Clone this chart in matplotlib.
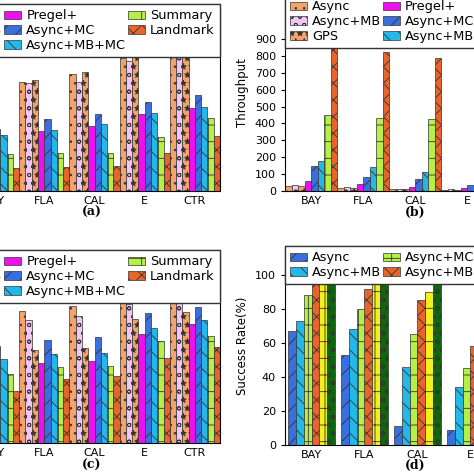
import matplotlib
matplotlib.use("Agg")
import matplotlib.pyplot as plt
import numpy as np

plt.rcParams['hatch.linewidth'] = 0.6
groups = ["BAY", "FLA", "CAL", "E", "CTR"]
series8 = ["Async", "Async+MB", "GPS", "Pregel+", "Async+MC", "Async+MB+MC", "Summary", "Landmark"]
colors8 = ["#f4a46a", "#f2c6f2", "#f4a46a", "#ee10ee", "#3a6fe0", "#22b8ea", "#b4f046", "#e8642a"]
hatch8 = ["..", "oo", "**", "", "//", "\\\\", "+", "xx"]

# panel (a) values (relative bar heights)
a_vals = [
    [300, 326, 351, 398, 404],
    [290, 323, 326, 389, 401],
    [305, 333, 355, 402, 408],
    [150, 181, 195, 231, 250],
    [185, 215, 230, 268, 286],
    [168, 183, 200, 233, 252],
    [110, 113, 114, 162, 218],
    [68, 71, 75, 114, 165],
]
# panel (b) throughput
b_vals = [
    [30, 15, 10, 8, 6],
    [35, 22, 12, 10, 8],
    [28, 15, 10, 8, 6],
    [60, 40, 25, 20, 15],
    [150, 85, 70, 38, 30],
    [180, 145, 110, 65, 50],
    [450, 435, 425, 400, 380],
    [900, 825, 785, 750, 700],
]
# panel (c) values
c_vals = [
    [370, 396, 411, 431, 450],
    [340, 368, 380, 416, 445],
    [260, 278, 285, 372, 393],
    [220, 240, 246, 325, 356],
    [290, 308, 316, 388, 406],
    [251, 266, 269, 345, 367],
    [207, 228, 230, 304, 319],
    [155, 193, 201, 255, 288],
]
# panel (d) success rate
d_groups = ["BAY", "FLA", "CAL", "E", "CTR"]
d_series = ["Async", "Async+MB", "Async+MC", "Async+MB+MC", "Summary", "Landmark"]
d_colors = ["#3a6fe0", "#22b8ea", "#b4f046", "#e8642a", "#f4f020", "#0a6a0a"]
d_hatch = ["//", "\\\\", "+", "xx", "+", "oo"]
d_vals = [
    [67, 53, 11, 9, 8],
    [73, 68, 46, 34, 30],
    [88, 80, 65, 45, 40],
    [96, 92, 85, 58, 55],
    [100, 95, 90, 81, 75],
    [100, 100, 100, 100, 100],
]

W = H = 474
fig = plt.figure(figsize=(4.74, 4.74), dpi=100)

def ax_px(l, t, r, b):
    return fig.add_axes([l / W, (H - b) / H, (r - l) / W, (b - t) / H])

def bars(ax, vals, names, cols, hatches, gw):
    n = len(vals)
    w = gw / n
    x = np.arange(len(vals[0]))
    for i in range(n):
        ax.bar(x - gw / 2 + w * (i + 0.5), vals[i], w, color=cols[i], hatch=hatches[i],
               edgecolor="#333333", linewidth=0.5, label=names[i])
    ax.set_xlim(-0.5, len(x) - 0.5)
    ax.set_xticks(x)
    ax.tick_params(labelsize=8, length=0)

LEG = dict(ncol=3, fontsize=9.3, borderaxespad=0, handlelength=1.3, handleheight=0.6,
           columnspacing=0.15, handletextpad=0.4, labelspacing=0.15,
           fancybox=False, edgecolor="#333333", framealpha=1)

# (a)
axa = ax_px(-31, 4, 220, 191)
bars(axa, a_vals, series8, colors8, hatch8, 1.0)
axa.set_xticklabels(groups)
axa.set_ylim(0, 560)
axa.set_yticks([])
axa.legend(loc="upper right", bbox_to_anchor=(1, 1), **LEG)

# (b)
axb = ax_px(285, -5, 545, 191)
bars(axb, b_vals, series8, colors8, hatch8, 1.0)
axb.set_xticklabels(groups)
axb.set_ylim(0, 1160)
axb.set_yticks(range(0, 1000, 100))
axb.tick_params(axis="y", length=3)
axb.set_ylabel("Throughput", fontsize=8.5)
axb.legend(loc="upper left", bbox_to_anchor=(0, 1), **LEG)

# (c)
axc = ax_px(-31, 250, 220, 443)
bars(axc, c_vals, series8, colors8, hatch8, 1.0)
axc.set_xticklabels(groups)
axc.set_ylim(0, 578)
axc.set_yticks([])
axc.legend(loc="upper right", bbox_to_anchor=(1, 1), **LEG)

# (d)
axd = ax_px(285, 246, 550, 445)
bars(axd, d_vals, d_series, d_colors, d_hatch, 0.87)
axd.set_xticklabels(d_groups)
axd.set_ylim(0, 117)
axd.set_yticks(range(0, 101, 20))
axd.tick_params(axis="y", length=3)
axd.set_ylabel("Success Rate(%)", fontsize=8.5)
axd.legend(loc="upper left", bbox_to_anchor=(0, 1), **LEG)

for lab, x, y in [("(a)", 92, 212), ("(b)", 415, 212), ("(c)", 92, 465), ("(d)", 415, 465)]:
    fig.text(x / W, 1 - y / H, lab, ha="center", va="center", fontsize=9,
             fontweight="bold", family="DejaVu Serif")

fig.savefig("out.png", dpi=100)
